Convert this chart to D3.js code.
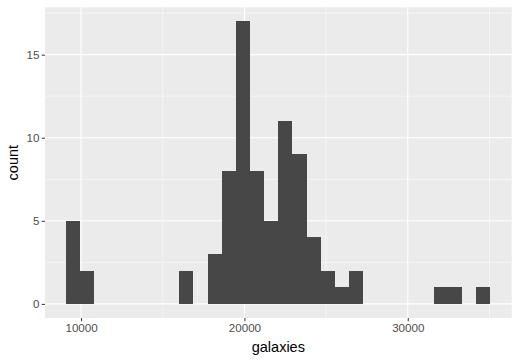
<!DOCTYPE html>
<html>
<head>
<meta charset="utf-8">
<script src="https://cdn.jsdelivr.net/npm/d3@7"></script>
<style>
  body { margin: 0; background: #fff; }
  svg { display: block; font-family: "Liberation Sans", Arial, Helvetica, sans-serif; }
</style>
</head>
<body>
<div id="chart"></div>
<script>
// histogram of galaxies, 30 bins
const binStart = 9090.5;
const binWidth = 865.76;
const counts = [5, 2, 0, 0, 0, 0, 0, 0, 2, 0, 3, 8, 17, 8, 5, 11, 9, 4, 2, 1, 2, 0, 0, 0, 0, 0, 1, 1, 0, 1];
const xTicks = [10000, 20000, 30000];
const xMinor = [15000, 25000, 35000];
const yTicks = [0, 5, 10, 15];
const yMinor = [2.5, 7.5, 12.5, 17.5];

const W = 519, H = 362;
const panel = { left: 45, top: 7.3, right: 511.7, bottom: 318 };

const bins = counts.map(function(c, i) {
    return { x0: binStart + i * binWidth, x1: binStart + (i + 1) * binWidth, n: c };
});

const xLo = bins[0].x0, xHi = bins[bins.length - 1].x1;
const xPad = (xHi - xLo) * 0.05;
const yMax = d3.max(counts), yPad = yMax * 0.05;

const x = d3.scaleLinear().domain([xLo - xPad, xHi + xPad]).range([panel.left, panel.right]);
const y = d3.scaleLinear().domain([-yPad, yMax + yPad]).range([panel.bottom, panel.top]);

const svg = d3.select('#chart').append('svg')
    .attr('width', W).attr('height', H);

svg.append('rect')
    .attr('x', panel.left).attr('y', panel.top)
    .attr('width', panel.right - panel.left).attr('height', panel.bottom - panel.top)
    .attr('fill', '#EBEBEB');

// grid
const grid = svg.append('g');
grid.selectAll('.xminor').data(xMinor).join('line')
    .attr('x1', d => x(d)).attr('x2', d => x(d))
    .attr('y1', panel.top).attr('y2', panel.bottom)
    .attr('stroke', '#fff').attr('stroke-width', 0.55);
grid.selectAll('.yminor').data(yMinor).join('line')
    .attr('y1', d => y(d)).attr('y2', d => y(d))
    .attr('x1', panel.left).attr('x2', panel.right)
    .attr('stroke', '#fff').attr('stroke-width', 0.55);
grid.selectAll('.xmajor').data(xTicks).join('line')
    .attr('x1', d => x(d)).attr('x2', d => x(d))
    .attr('y1', panel.top).attr('y2', panel.bottom)
    .attr('stroke', '#fff').attr('stroke-width', 1.1);
grid.selectAll('.ymajor').data(yTicks).join('line')
    .attr('y1', d => y(d)).attr('y2', d => y(d))
    .attr('x1', panel.left).attr('x2', panel.right)
    .attr('stroke', '#fff').attr('stroke-width', 1.1);

// bars; crisp edges so adjacent bins meet without seams
svg.append('g').selectAll('rect').data(bins.filter(b => b.n > 0)).join('rect')
    .attr('x', d => x(d.x0))
    .attr('width', d => x(d.x1) - x(d.x0))
    .attr('y', d => y(d.n))
    .attr('height', d => y(0) - y(d.n))
    .attr('fill', '#474747')
    .attr('shape-rendering', 'crispEdges');

// axes
const xAxis = svg.append('g')
    .attr('transform', 'translate(0,' + panel.bottom + ')')
    .call(d3.axisBottom(x).tickValues(xTicks).tickSize(3.3).tickPadding(2.3).tickFormat(d3.format('d')));
const yAxis = svg.append('g')
    .attr('transform', 'translate(' + panel.left + ',0)')
    .call(d3.axisLeft(y).tickValues(yTicks).tickSize(3.3).tickPadding(2.3));

[xAxis, yAxis].forEach(function(a) {
    a.select('.domain').remove();
    a.selectAll('.tick line').attr('stroke', '#333333').attr('stroke-width', 1);
    a.selectAll('.tick text').attr('fill', '#4D4D4D').style('font-size', '11.6px');
});

svg.append('text')
    .attr('x', (panel.left + panel.right) / 2).attr('y', 352)
    .attr('text-anchor', 'middle')
    .style('font-size', '14.5px').attr('fill', '#000')
    .text('galaxies');

svg.append('text')
    .attr('transform', 'translate(18,' + ((panel.top + panel.bottom) / 2) + ') rotate(-90)')
    .attr('text-anchor', 'middle')
    .style('font-size', '14.5px').attr('fill', '#000')
    .text('count');
</script>
</body>
</html>
